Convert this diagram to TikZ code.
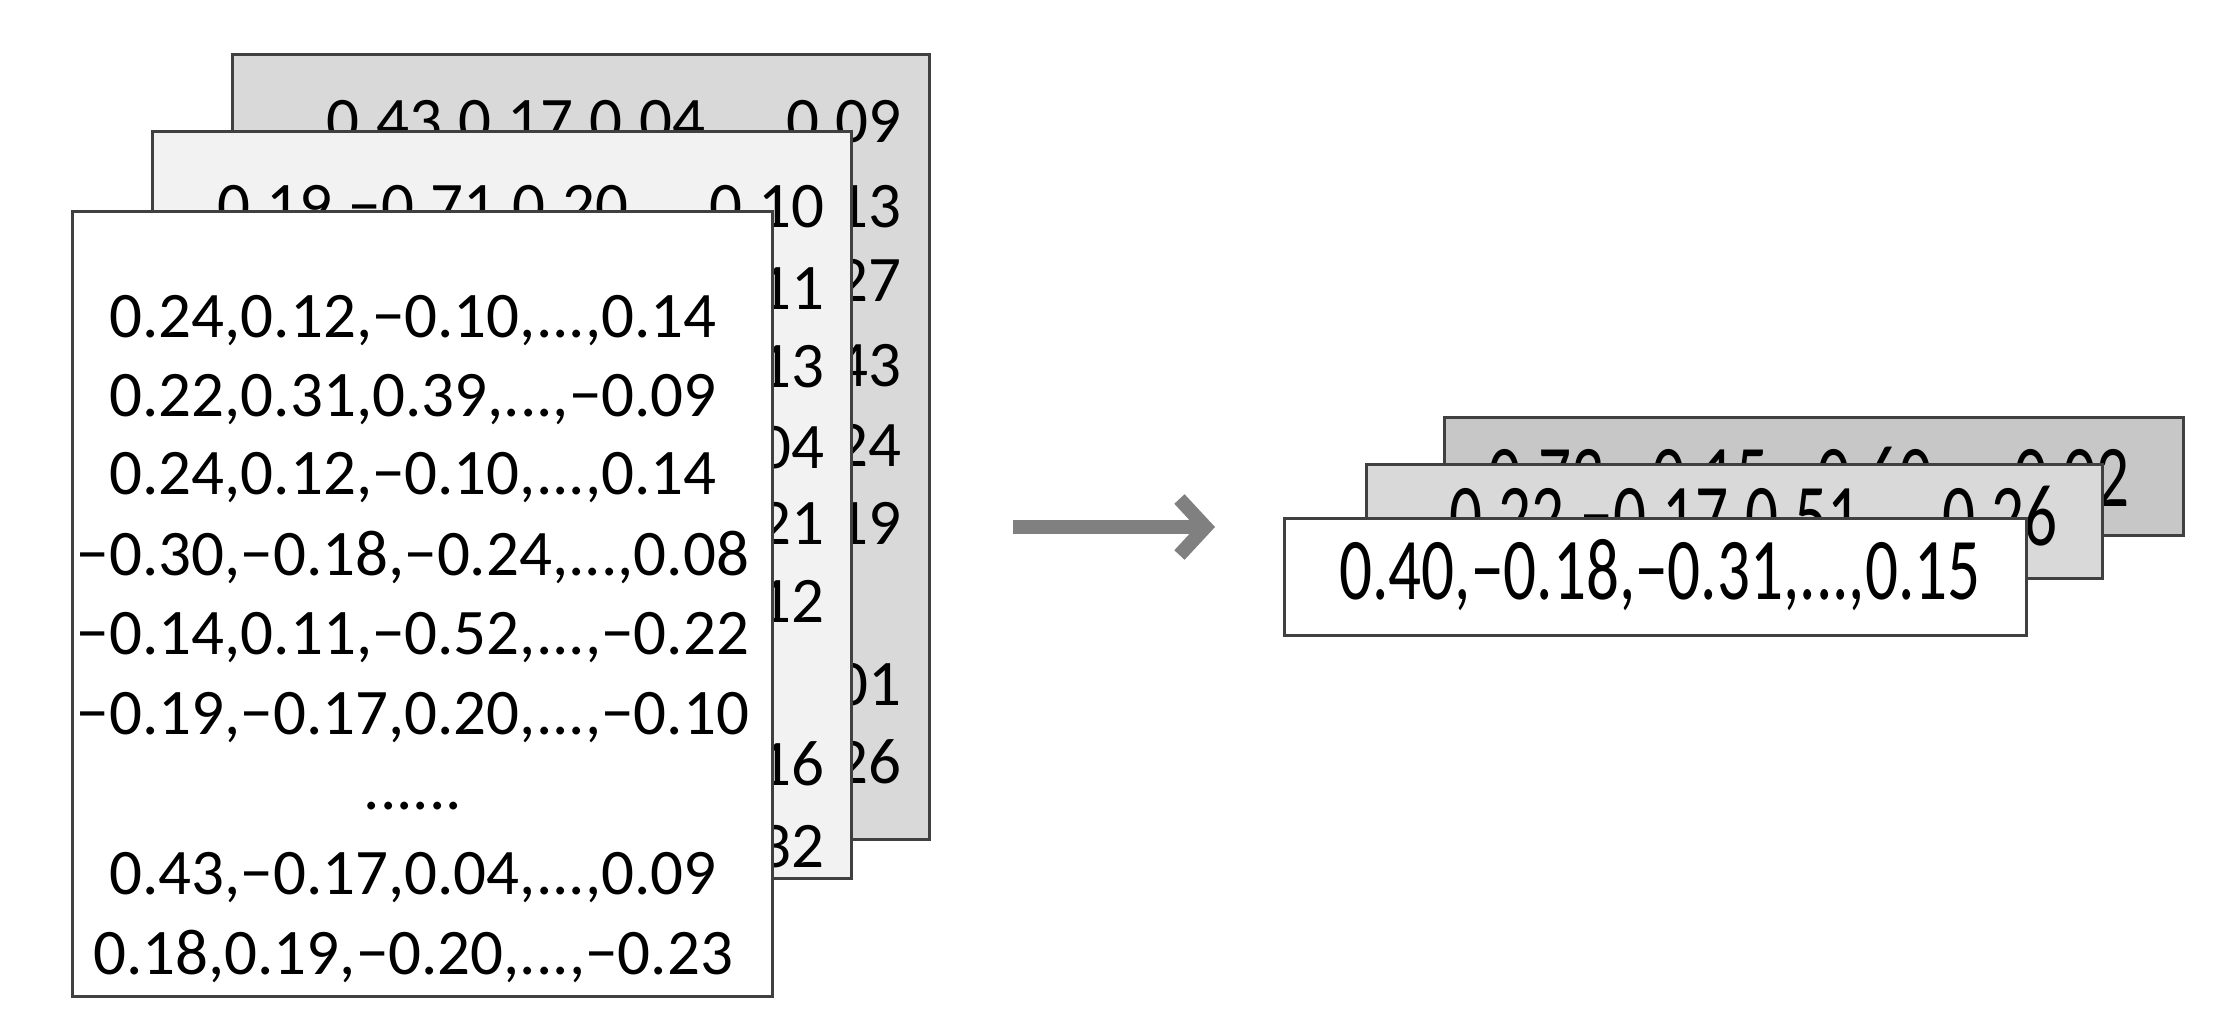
\documentclass[tikz,border=0pt]{standalone}
\usepackage{fontspec}
\setmainfont{Carlito}
\usetikzlibrary{arrows.meta}
\definecolor{bordc}{HTML}{404040}
\tikzset{
  sheet/.style={draw=bordc,line width=3pt},
  lt/.style={font=\fontsize{65}{77}\selectfont,inner sep=0pt,text=black},
  rt/.style={font=\fontsize{88}{100}\selectfont,inner sep=0pt,text=black},
}
\newcommand{\cmp}[1]{\scalebox{0.74}[1]{#1}}
\begin{document}
\begin{tikzpicture}[x=1pt,y=-1pt]
\useasboundingbox (0,0) rectangle (2237,1031);
% left stack back
\draw[sheet,fill=black!15] (232,54) rectangle (929,839);
\foreach \yy/\t in {126/{0.43,0.17,0.04,...,0.09},211/{0.19,0.71,0.20,...,0.13},285/{0.22,0.15,0.30,...,0.27},368/{0.24,0.18,0.11,...,0.43},450/{0.31,0.20,0.12,...,0.24},528/{0.14,0.11,0.52,...,0.19},689/{0.19,0.17,0.20,...,0.01},766/{0.33,0.17,0.51,...,0.26}}
  \node[lt,anchor=east] (b\yy) at (902,\yy) {\t};
% left stack middle
\draw[sheet,fill=black!5] (152,131) rectangle (851,878);
\foreach \yy/\t in {211/{0.19,−0.71,0.20,...,0.10},293/{0.22,0.31,0.39,...,0.11},371/{0.24,0.12,0.10,...,0.13},450/{0.30,0.18,0.24,...,0.04},528/{0.14,0.11,0.52,...,0.21},606/{0.19,0.17,0.20,...,0.12},768/{0.43,0.17,0.04,...,0.16},849/{0.18,0.19,0.20,...,0.32}}
  \node[lt,anchor=east] (m\yy) at (825,\yy) {\t};
% left stack front
\draw[sheet,fill=white] (72,211) rectangle (772,996);
\node[lt] (f1) at (413,321) {0.24,0.12,−0.10,...,0.14};
\node[lt] (f2) at (413,400) {0.22,0.31,0.39,...,−0.09};
\node[lt] (f3) at (413,478) {0.24,0.12,−0.10,...,0.14};
\node[lt] (f4) at (413,557) {−0.30,−0.18,−0.24,...,0.08};
\node[lt] (f5) at (413,638) {−0.14,0.11,−0.52,...,−0.22};
\node[lt] (f6) at (413,718) {−0.19,−0.17,0.20,...,−0.10};
\node[lt] (f7) at (413,806) {......};
\node[lt] (f8) at (413,878) {0.43,−0.17,0.04,...,0.09};
\node[lt] (f9) at (413,956) {0.18,0.19,−0.20,...,−0.23};
% arrow
\coordinate (a0) at (1013,527);
\coordinate (a1) at (1215,527);
\draw[line width=14pt,color=black!50,-{Straight Barb[length=26pt,width=56pt]}] (a0) -- (a1);
% right stack
\draw[sheet,fill=black!22] (1444,417) rectangle (2183,535);
\node[rt,anchor=east] (rb) at (2130,482) {\cmp{0.73,−0.15,−0.60,...,0.02}};
\draw[sheet,fill=black!15] (1366,464) rectangle (2102,578);
\node[rt,anchor=east] (rm) at (2058,521) {\cmp{0.22,−0.17,0.51,...,0.26}};
\draw[sheet,fill=white] (1284,518) rectangle (2026,635);
\node[rt] (rf) at (1660,575) {\cmp{0.40,−0.18,−0.31,...,0.15}};
\end{tikzpicture}
\end{document}
